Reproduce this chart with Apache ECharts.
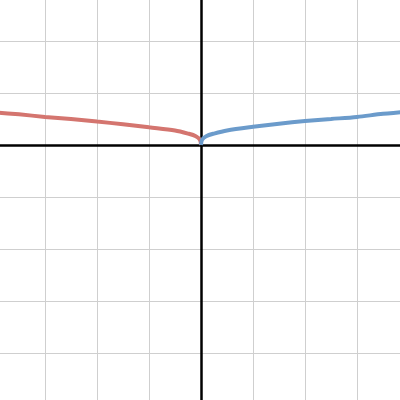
<!DOCTYPE html>
<html>
<head>
<meta charset="utf-8">
<script src="https://cdn.jsdelivr.net/npm/echarts@6/dist/echarts.min.js"></script>
<style>html,body{margin:0;padding:0;background:#fff;overflow:hidden}#chart{position:absolute;left:-7px;top:-11px;width:416px;height:416px}</style>
</head>
<body>
<div id="chart"></div>
<script>
// Curve points
var blueX = [0, 0.02, 0.1, 0.25, 0.5, 1, 1.5, 2, 2.5, 3, 3.5, 4];
var blueY = [0, 0.1, 0.17, 0.22, 0.28, 0.35, 0.41, 0.46, 0.5, 0.54, 0.6, 0.64];
var redX = [0, -0.02, -0.1, -0.25, -0.5, -1, -1.5, -2, -2.5, -3, -3.5, -4];
var redY = [0, 0.1, 0.17, 0.22, 0.28, 0.34, 0.4, 0.45, 0.5, 0.54, 0.59, 0.63];

var chart = echarts.init(document.getElementById('chart'));

var pairs = function(xs, ys) {
    return xs.map(function(x, i) { return [x, ys[i]]; });
};

var axisCommon = {
    type: 'value',
    interval: 1,
    axisLabel: { show: false },
    axisTick: { show: false },
    axisLine: { onZero: true, lineStyle: { color: '#000', width: 2.5 } },
    splitLine: { lineStyle: { color: '#cfcfcf', width: 1 } }
};

chart.setOption({
    animation: false,
    grid: { left: 0, right: 0, top: 0, bottom: 0, containLabel: false },
    xAxis: Object.assign({ min: -4, max: 4 }, axisCommon),
    yAxis: Object.assign({ min: -5, max: 3 }, axisCommon),
    series: [
        {
            type: 'line', data: pairs(redX, redY), smooth: 0.3, showSymbol: false,
            lineStyle: { color: '#d4756f', width: 4 }
        },
        {
            type: 'line', data: pairs(blueX, blueY), smooth: 0.3, showSymbol: false,
            lineStyle: { color: '#6b9bcb', width: 4 }
        }
    ]
});
</script>
</body>
</html>
